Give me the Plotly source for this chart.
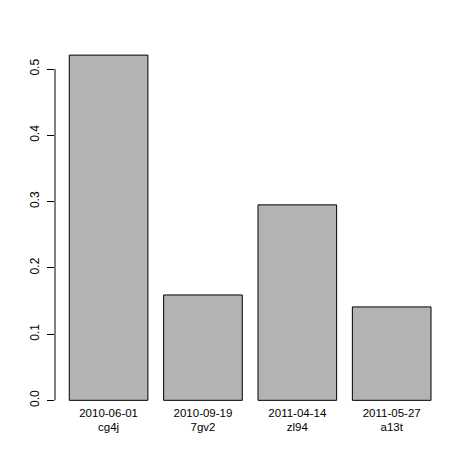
import plotly.graph_objects as go

dates = ["2010-06-01", "2010-09-19", "2011-04-14", "2011-05-27"]
codes = ["cg4j", "7gv2", "zl94", "a13t"]
values = [0.521, 0.159, 0.295, 0.141]

labels = [d + "<br>" + c for d, c in zip(dates, codes)]
font = dict(family="Liberation Sans, Arial, sans-serif", size=12, color="black")

fig = go.Figure(
    go.Bar(
        x=labels,
        y=values,
        marker=dict(color="#b3b3b3", line=dict(color="black", width=1)),
    )
)

# page body adds an 8px margin, so the figure is sized to fit inside it
fig.update_layout(
    width=458,
    height=458,
    margin=dict(l=47, r=21, t=34, b=65),
    plot_bgcolor="white",
    paper_bgcolor="white",
    bargap=1 / 6,
    font=font,
    showlegend=False,
)
fig.update_xaxes(
    range=[-0.568, 3.565],
    showgrid=False,
    showline=False,
    ticks="",
    tickfont=dict(size=11.5),
    ticklabelstandoff=3,
    automargin=False,
)
fig.update_yaxes(
    range=[-0.001, 0.5408],
    tickvals=[0, 0.1, 0.2, 0.3, 0.4, 0.5],
    ticktext=["0.0", "0.1", "0.2", "0.3", "0.4", "0.5"],
    tickangle=-90,
    ticks="outside",
    ticklen=7,
    tickcolor="black",
    showgrid=False,
    zeroline=False,
    showline=False,
    ticklabelstandoff=3,
    automargin=False,
)
# R-style axis line spanning only the tick range
fig.add_shape(
    type="line", xref="paper", yref="y", x0=0, x1=0, y0=0, y1=0.5,
    line=dict(color="black", width=1),
)

fig.write_html("out.html")
